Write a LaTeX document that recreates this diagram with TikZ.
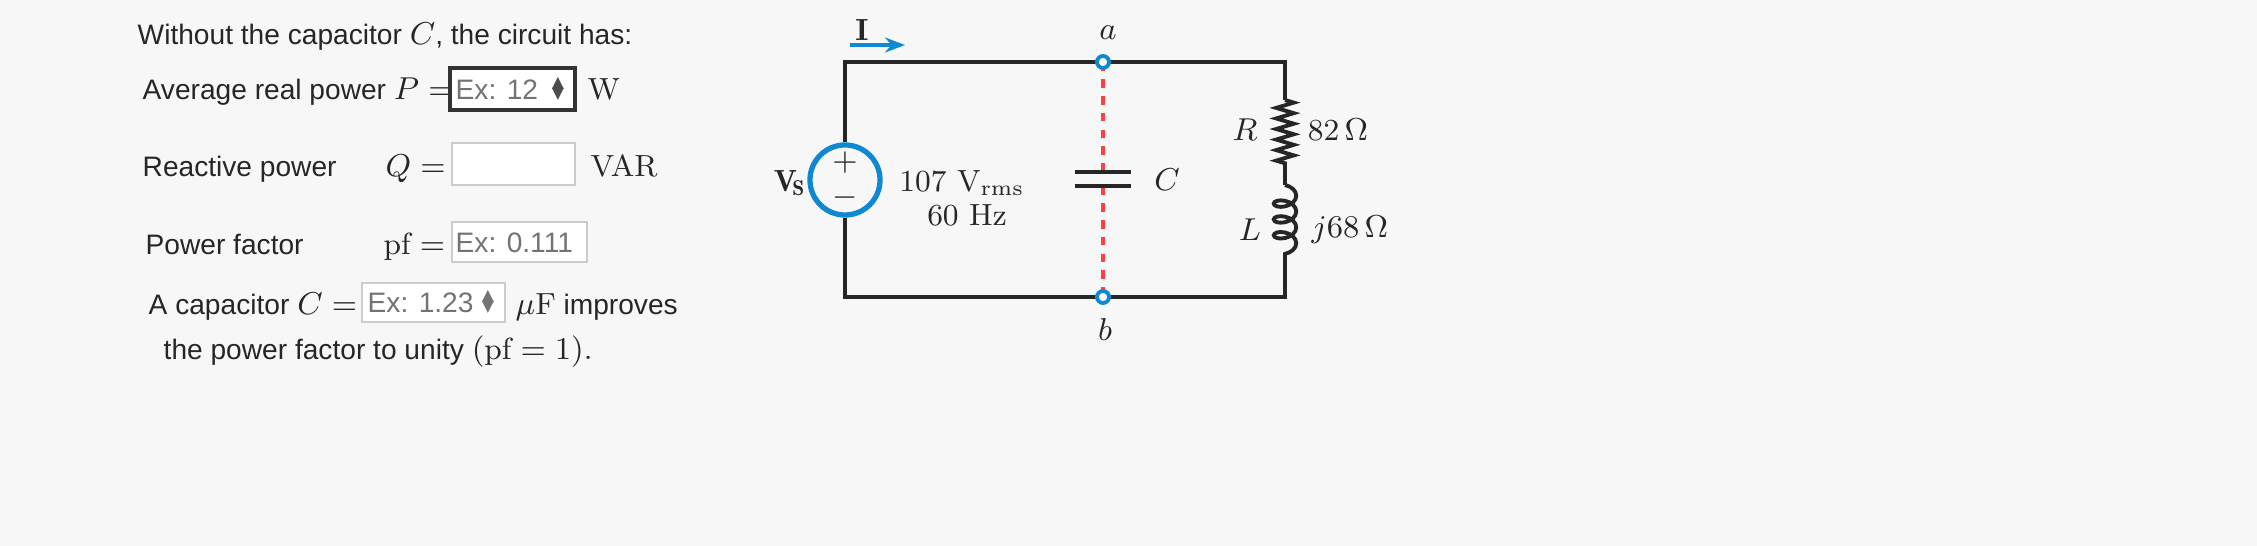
\documentclass[tikz,border=0pt]{standalone}
\usepackage{fontspec}
\setsansfont{Liberation Sans}
\newfontfamily\djfont{DejaVu Sans}
\usetikzlibrary{decorations.pathmorphing,arrows.meta}
\begin{document}
\begin{tikzpicture}[x=0.01cm,y=-0.01cm,
 txt/.style={anchor=base west,inner sep=0,font=\fontsize{8}{10}\selectfont\sffamily,text=black!85},
 mth/.style={anchor=base west,inner sep=0,font=\fontsize{8.7}{10}\selectfont,text=black!85},
 dbox/.style={draw=black!80,line width=0.9pt},
 lbox/.style={draw=black!20,line width=0.6pt},
 wire/.style={line width=1.1pt,black!85},
 cl/.style={inner sep=0,font=\fontsize{8.7}{10}\selectfont,text=black!85}]
\fill[black!3] (0,0) rectangle (2257,546);
% left text
\node[txt] (t1) at (137,45) {Without the capacitor \rmfamily\fontsize{8.7}{10}\selectfont$C$\sffamily\fontsize{8}{10}\selectfont, the circuit has:};
\node[txt] (t2) at (142,100) {Average real power \rmfamily\fontsize{8.7}{10}\selectfont$P=$};
\draw[dbox,fill=white] (450,68) rectangle (575,110);
\node[txt,text=black!55] (b1) at (455,100) {Ex: 12};
\node[font=\djfont\fontsize{4.5}{4.5}\selectfont,inner sep=0,text=black!70,align=center] (s1) at (558,89) {▲\\[-1.5pt]▼};
\node[mth] (w) at (587,100) {W};
\node[txt] (t3) at (142,177) {Reactive power};
\node[mth] (q) at (385,177) {$Q=$};
\draw[lbox,fill=white] (452,143) rectangle (575,185);
\node[mth] (var) at (590,177) {VAR};
\node[txt] (t4) at (145,255) {Power factor};
\node[mth] (pf) at (383,255) {$\mathrm{pf}=$};
\draw[lbox,fill=white] (452,222) rectangle (587,262);
\node[txt,text=black!55] (b3) at (455,253) {Ex: 0.111};
\node[txt] (t5) at (148,315) {A capacitor \rmfamily\fontsize{8.7}{10}\selectfont$C=$};
\draw[lbox,fill=white] (362,283) rectangle (505,322);
\node[txt,text=black!55] (b4) at (367,313) {Ex: 1.23};
\node[font=\djfont\fontsize{4.5}{4.5}\selectfont,inner sep=0,text=black!55,align=center] (s2) at (488,302) {▲\\[-1.5pt]▼};
\node[txt] (t6) at (515,315) {\rmfamily\fontsize{8.7}{10}\selectfont$\mu$F\sffamily\fontsize{8}{10}\selectfont{} improves};
\node[txt] (t7) at (163,360) {the power factor to unity \rmfamily\fontsize{8.7}{10}\selectfont$(\mathrm{pf}=1)$.};
% circuit
\coordinate (tl) at (845,62); \coordinate (tr) at (1285,62);
\coordinate (bl) at (845,297); \coordinate (br) at (1285,297);
\coordinate (a) at (1103,62); \coordinate (b) at (1103,297);
\coordinate (r1) at (1285,100); \coordinate (r2) at (1285,165);
\coordinate (l1) at (1285,185); \coordinate (l2) at (1285,265);
\node[circle,draw=cyan!70!blue,line width=1.5pt,minimum size=0.7cm,inner sep=0] (vs) at (845,180) {};
\draw[wire] (vs.north) -- (tl) -- (a) -- (tr) -- (r1);
\draw[wire] (vs.south) -- (bl) -- (b) -- (br) -- (l2);
\draw[wire,decorate,decoration={zigzag,amplitude=2.5pt,segment length=3pt}] (r1) -- (r2);
\draw[wire] (r2) -- (l1);
\draw[wire,decorate,decoration={coil,amplitude=3.2pt,segment length=4.5pt,aspect=0.6}] (l1) -- (l2);
\node[cl] (plus) at (845,163) {$+$};
\node[cl] (minus) at (845,198) {$-$};
\draw[red!75,line width=1.1pt,dash pattern=on 2.5pt off 2.3pt] (a) -- (1103,172) (1103,186) -- (b);
\draw[line width=1.4pt,black!85] (1075,172) -- (1131,172) (1075,186) -- (1131,186);
\node[circle,draw=cyan!70!blue,fill=white,line width=1.1pt,minimum size=0.12cm,inner sep=0] (na) at (a) {};
\node[circle,draw=cyan!70!blue,fill=white,line width=1.1pt,minimum size=0.12cm,inner sep=0] (nb) at (b) {};
\node[cl] (la) at (1108,33) {$a$};
\node[cl] (lb) at (1105,330) {$b$};
\node[cl,font=\fontsize{9.5}{11}\selectfont] (lc) at (1167,180) {$C$};
\node[cl] (lr) at (1245,130) {$R$};
\node[cl] (rv) at (1338,130) {82\,$\Omega$};
\node[cl] (ll) at (1250,230) {$L$};
\node[cl] (lv) at (1350,230) {$j68\,\Omega$};
\node[cl] (li) at (862,30) {\textbf{I}};
\coordinate (i1) at (850,45); \coordinate (i2) at (905,45);
\draw[cyan!70!blue,line width=1.4pt,-{Stealth[length=0.2cm]}] (i1) -- (i2);
\node[cl] (lvs) at (790,183) {$\mathbf{V}_{\!\mathbf{S}}$};
\node[cl] (src) at (962,183) {107 V$_{\mathrm{rms}}$};
\node[cl] (hz) at (967,215) {60 Hz};
\end{tikzpicture}
\end{document}
